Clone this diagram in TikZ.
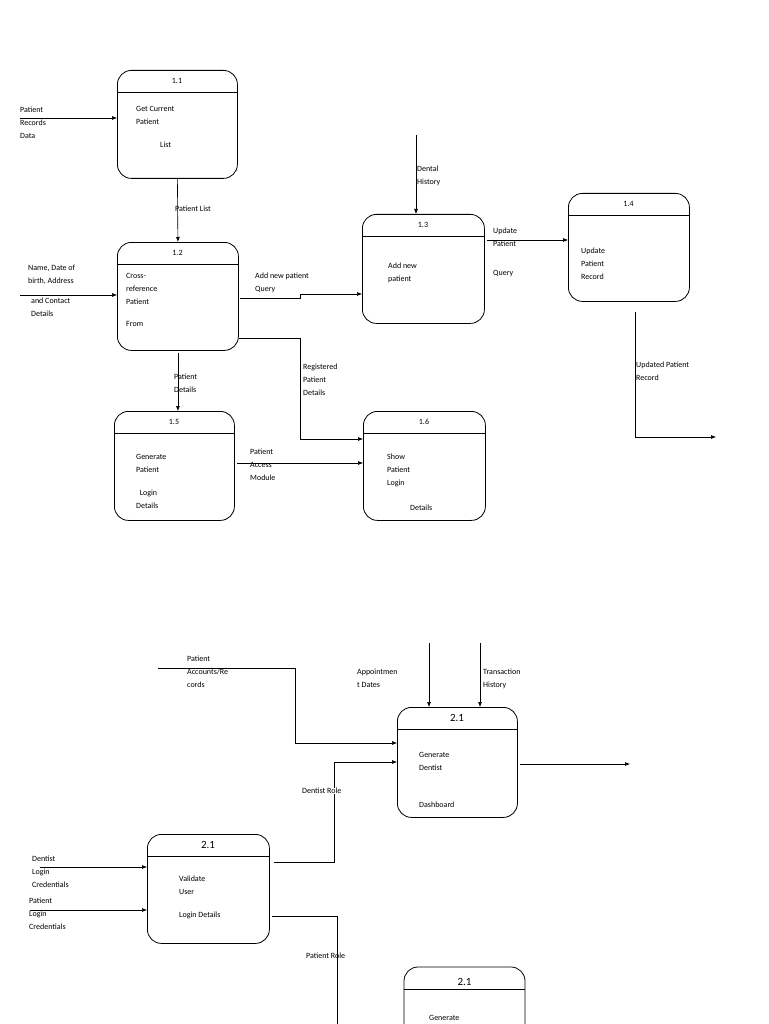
\documentclass[tikz,border=0pt]{standalone}
\usepackage{fontspec}
\setmainfont{Carlito}
\usetikzlibrary{arrows.meta}
\begin{document}
\begin{tikzpicture}[x=1pt,y=-1pt,
  box/.style={draw,thick,rounded corners=14pt,anchor=north west,inner sep=0pt},
  t/.style={font=\fontsize{8}{13}\selectfont,align=left,anchor=north west,inner sep=0pt},
  ttl/.style={font=\fontsize{8}{10}\selectfont,inner sep=0pt},
  big/.style={font=\fontsize{11}{13}\selectfont,inner sep=0pt},
  fl/.style={-{Latex[length=5pt,width=4pt]},semithick},
  pl/.style={semithick}]
\useasboundingbox (0,0) rectangle (768,1024);
\newcommand{\pbox}[7]{% name x y w h title style
  \node[box,minimum width=#4pt,minimum height=#5pt] (#1) at (#2,#3) {};
  \draw[semithick] (#2,#3+22) -- (#2+#4,#3+22);
  \node[#7] at (#2+#4/2,#3+11) {#6};}
\pbox{b11}{117}{70}{120}{108}{1.1}{ttl}
\pbox{b12}{117}{242}{121}{108}{1.2}{ttl}
\pbox{b13}{362}{214}{122}{109}{1.3}{ttl}
\pbox{b14}{568}{193}{121}{108}{1.4}{ttl}
\pbox{b15}{114}{411}{120}{109}{1.5}{ttl}
\pbox{b16}{363}{411}{122}{109}{1.6}{ttl}
\pbox{b21}{397}{707}{120}{110}{2.1}{big}
\pbox{b22}{147}{834}{122}{109}{2.1}{big}
\draw[thick,rounded corners=14pt] (404,1030) -- (404,967) -- (525,967) -- (525,1030);
\draw[semithick] (404,989) -- (525,989);
\node[big] (b23) at (464.5,982) {2.1};
% body texts
\node[t] at (136,106) {Get Current\\Patient};
\node[t] at (160,142) {List};
\node[t] at (126,273) {Cross-\\reference\\Patient};
\node[t] at (126,321) {From};
\node[t] at (388,263) {Add new\\patient};
\node[t] at (581,248) {Update\\Patient\\Record};
\node[t] at (136,454) {Generate\\Patient};
\node[t] at (136,490) {\ \ Login\\Details};
\node[t] at (387,454) {Show\\Patient\\Login};
\node[t] at (410,505) {Details};
\node[t] at (419,752) {Generate\\Dentist};
\node[t] at (419,802) {Dashboard};
\node[t] at (179,876) {Validate\\User};
\node[t] at (179,912) {Login Details};
\node[t] at (429,1015) {Generate};
% free ends
\coordinate (a1) at (20,118);
\coordinate (a2) at (20,295);
\coordinate (a3) at (416,135);
\coordinate (a4) at (635,312);
\coordinate (a5) at (716,437);
\coordinate (a6) at (158,668);
\coordinate (a7) at (429,643);
\coordinate (a8) at (480,643);
\coordinate (a9) at (630,764);
\coordinate (a10) at (40,867);
\coordinate (a11) at (30,910);
\coordinate (a12) at (337,1030);
% connectors
\draw[fl] (a1) -- (a1 -| b11.west);
\node[t] at (20,107) {Patient\\Records\\Data};
\draw[fl] (b11.south) -- (b12.north);
\node[t] at (175,206) {Patient List};
\draw[fl] (a2) -- (a2 -| b12.west);
\node[t] at (28,265) {Name, Date of\\birth, Address};
\node[t] at (31,298) {and Contact\\Details};
\draw[fl] (240,298) -- (300,298) -- (300,294) -- (b13.west |- 0,294);
\node[t] at (255,273) {Add new patient\\Query};
\draw[fl] (b12.south |- 0,353) -- (b15.north -| b12.south);
\node[t] at (174,374) {Patient\\Details};
\draw[fl] (b12.east |- 0,338) -- (300,338) -- (300,439) -- (b16.west |- 0,439);
\node[t] at (303,364) {Registered\\Patient\\Details};
\draw[fl] (237,463) -- (b16.west |- 0,463);
\node[t] at (250,449) {Patient\\Access\\Module};
\draw[fl] (a3) -- (b13.north -| a3);
\node[t] at (417,166) {Dental\\History};
\draw[fl] (487,240) -- (b14.west |- 0,240);
\node[t] at (493,228) {Update\\Patient};
\node[t] at (493,270) {Query};
\draw[pl,-{Latex[length=5pt,width=4pt]}] (a4) -- (a4 |- a5) -- (a5);
\node[t] at (636,362) {Updated Patient\\Record};
\draw[fl] (a6) -- (295,668) -- (295,743) -- (b21.west |- 0,743);
\node[t] at (187,656) {Patient\\Accounts/Re\\cords};
\draw[fl] (a7) -- (b21.north -| a7);
\draw[fl] (a8) -- (b21.north -| a8);
\node[t] at (357,669) {Appointmen\\t Dates};
\node[t] at (483,669) {Transaction\\History};
\draw[fl] (520,764) -- (a9);
\draw[fl] (274,862) -- (334,862) -- (334,762) -- (b21.west |- 0,762);
\node[t,fill=white,inner xsep=1pt] at (301,788) {Dentist Role};
\draw[pl] (272,916) -- (337,916) -- (a12);
\node[t,fill=white,inner xsep=1pt] at (305,953) {Patient Role};
\draw[pl] (337,916) -- (337,1030);
\draw[fl] (a10) -- (b22.west |- a10);
\node[t] at (32,856) {Dentist\\ Login\\ Credentials};
\draw[fl] (a11) -- (b22.west |- a11);
\node[t] at (29,898) {Patient\\Login\\Credentials};
\end{tikzpicture}
\end{document}
